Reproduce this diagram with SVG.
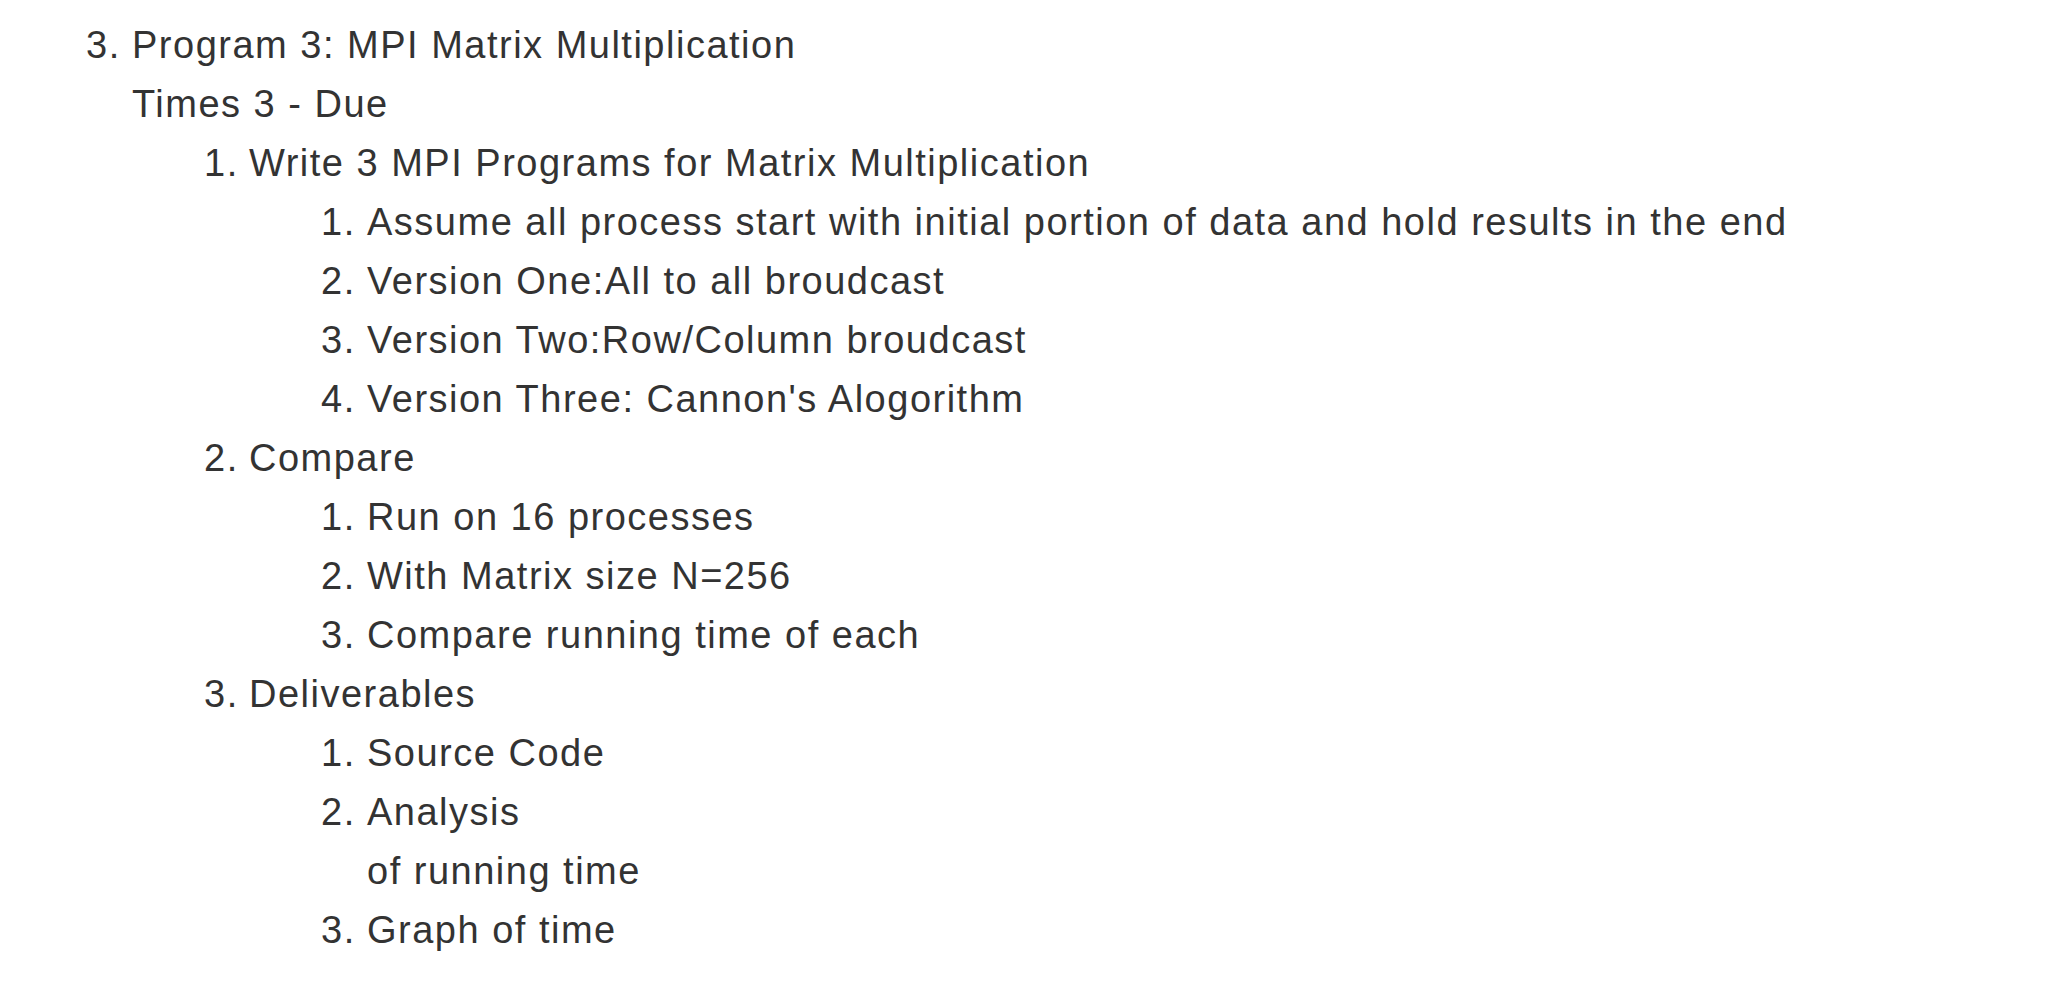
<svg xmlns="http://www.w3.org/2000/svg" width="2046" height="986" viewBox="0 0 2046 986">
<style>text{font-family:"Liberation Sans",Arial,sans-serif;font-size:38px;letter-spacing:1.5px;fill:#333}</style>
<rect width="2046" height="986" fill="#fff"/>
<g id="outline">
<text x="86" y="58">3.</text><text x="132" y="58">Program 3: MPI Matrix Multiplication</text>
<text x="132" y="117">Times 3 - Due</text>
<text x="204" y="176">1.</text><text x="249" y="176">Write 3 MPI Programs for Matrix Multiplication</text>
<text x="321" y="235">1.</text><text x="367" y="235">Assume all process start with initial portion of data and hold results in the end</text>
<text x="321" y="294">2.</text><text x="367" y="294">Version One:All to all broudcast</text>
<text x="321" y="353">3.</text><text x="367" y="353">Version Two:Row/Column broudcast</text>
<text x="321" y="412">4.</text><text x="367" y="412">Version Three: Cannon's Alogorithm</text>
<text x="204" y="471">2.</text><text x="249" y="471">Compare</text>
<text x="321" y="530">1.</text><text x="367" y="530">Run on 16 processes</text>
<text x="321" y="589">2.</text><text x="367" y="589">With Matrix size N=256</text>
<text x="321" y="648">3.</text><text x="367" y="648">Compare running time of each</text>
<text x="204" y="707">3.</text><text x="249" y="707">Deliverables</text>
<text x="321" y="766">1.</text><text x="367" y="766">Source Code</text>
<text x="321" y="825">2.</text><text x="367" y="825">Analysis</text>
<text x="367" y="884">of running time</text>
<text x="321" y="943">3.</text><text x="367" y="943">Graph of time</text>
</g>
</svg>
